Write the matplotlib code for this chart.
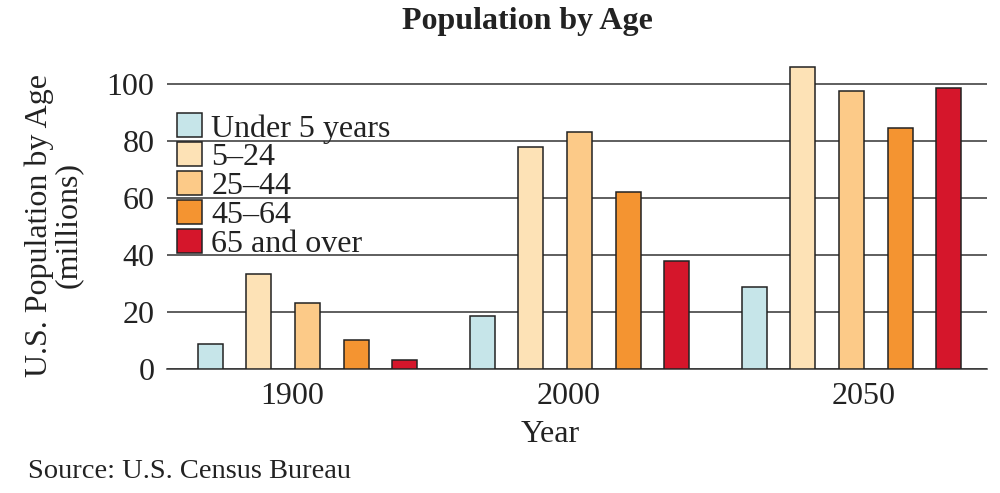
import numpy as np
import matplotlib
matplotlib.use("Agg")
import matplotlib.pyplot as plt

# --- DATA (millions) ---
years = ["1900", "2000", "2050"]
age_groups = ["Under 5 years", "5\u201324", "25\u201344", "45\u201364", "65 and over"]
under_5 = [8.8, 18.6, 28.8]
age_5_24 = [33.2, 78.0, 106.0]
age_25_44 = [23.0, 83.0, 97.5]
age_45_64 = [10.3, 62.0, 84.5]
age_65_over = [3.2, 38.0, 98.6]

colors = ["#c6e5e9", "#fde2b6", "#fcca88", "#f49431", "#d5162b"]

plt.rcParams['font.family'] = ['Liberation Serif', 'DejaVu Serif']
plt.rcParams['font.size'] = 23

fig = plt.figure(figsize=(10, 4.93), dpi=100)
ax = fig.add_axes([0.167, 0.2515, 0.82, 0.636])

series = [under_5, age_5_24, age_25_44, age_45_64, age_65_over]
x = np.arange(len(years))
step = 0.179   # distance between bars in a group
width = 0.092

for i, (vals, col, lab) in enumerate(zip(series, colors, age_groups)):
    ax.bar(x + (i - 2) * step, vals, width=width, color=col,
           edgecolor="#222222", linewidth=1.1, label=lab, zorder=3)

ax.set_xlim(-0.517, 2.498)
ax.set_ylim(0, 110)
ax.set_yticks([0, 20, 40, 60, 80, 100])
ax.yaxis.grid(True, color="#333333", linewidth=1.1, zorder=0)
ax.set_axisbelow(True)

# year labels sit a little off the group centres in the original
label_shift = [-0.057, -0.04, 0.046]
ax.set_xticks(x + np.array(label_shift))
ax.set_xticklabels(years)
ax.tick_params(axis='both', length=0, colors="#222222", labelsize=23)
ax.tick_params(axis='y', pad=9)
ax.tick_params(axis='x', pad=9)

for side in ["top", "right", "left"]:
    ax.spines[side].set_visible(False)
ax.spines["bottom"].set_color("#333333")
ax.spines["bottom"].set_linewidth(1.1)

leg = ax.legend(loc="upper left", bbox_to_anchor=(0.012, 0.815), frameon=False,
                fontsize=23, handlelength=0.78, handleheight=0.78,
                handletextpad=0.3, labelspacing=-0.04, borderpad=0,
                borderaxespad=0)
for t in leg.get_texts():
    t.set_color("#222222")

fig.text(0.527, 1 - 22 / 493, "Population by Age", ha="center", va="center",
         fontsize=23, fontweight="bold", color="#222222")
fig.text(0.054, 1 - 225 / 493, "U.S. Population by Age\n(millions)",
         rotation=90, ha="center", va="center", fontsize=23,
         linespacing=1.0, color="#222222")
fig.text(0.550, 1 - 435 / 493, "Year", ha="center", va="center",
         fontsize=23, color="#222222")
fig.text(0.028, 1 - 472 / 493, "Source: U.S. Census Bureau", ha="left",
         va="center", fontsize=20.5, color="#222222")

fig.savefig("out.png", dpi=100)
